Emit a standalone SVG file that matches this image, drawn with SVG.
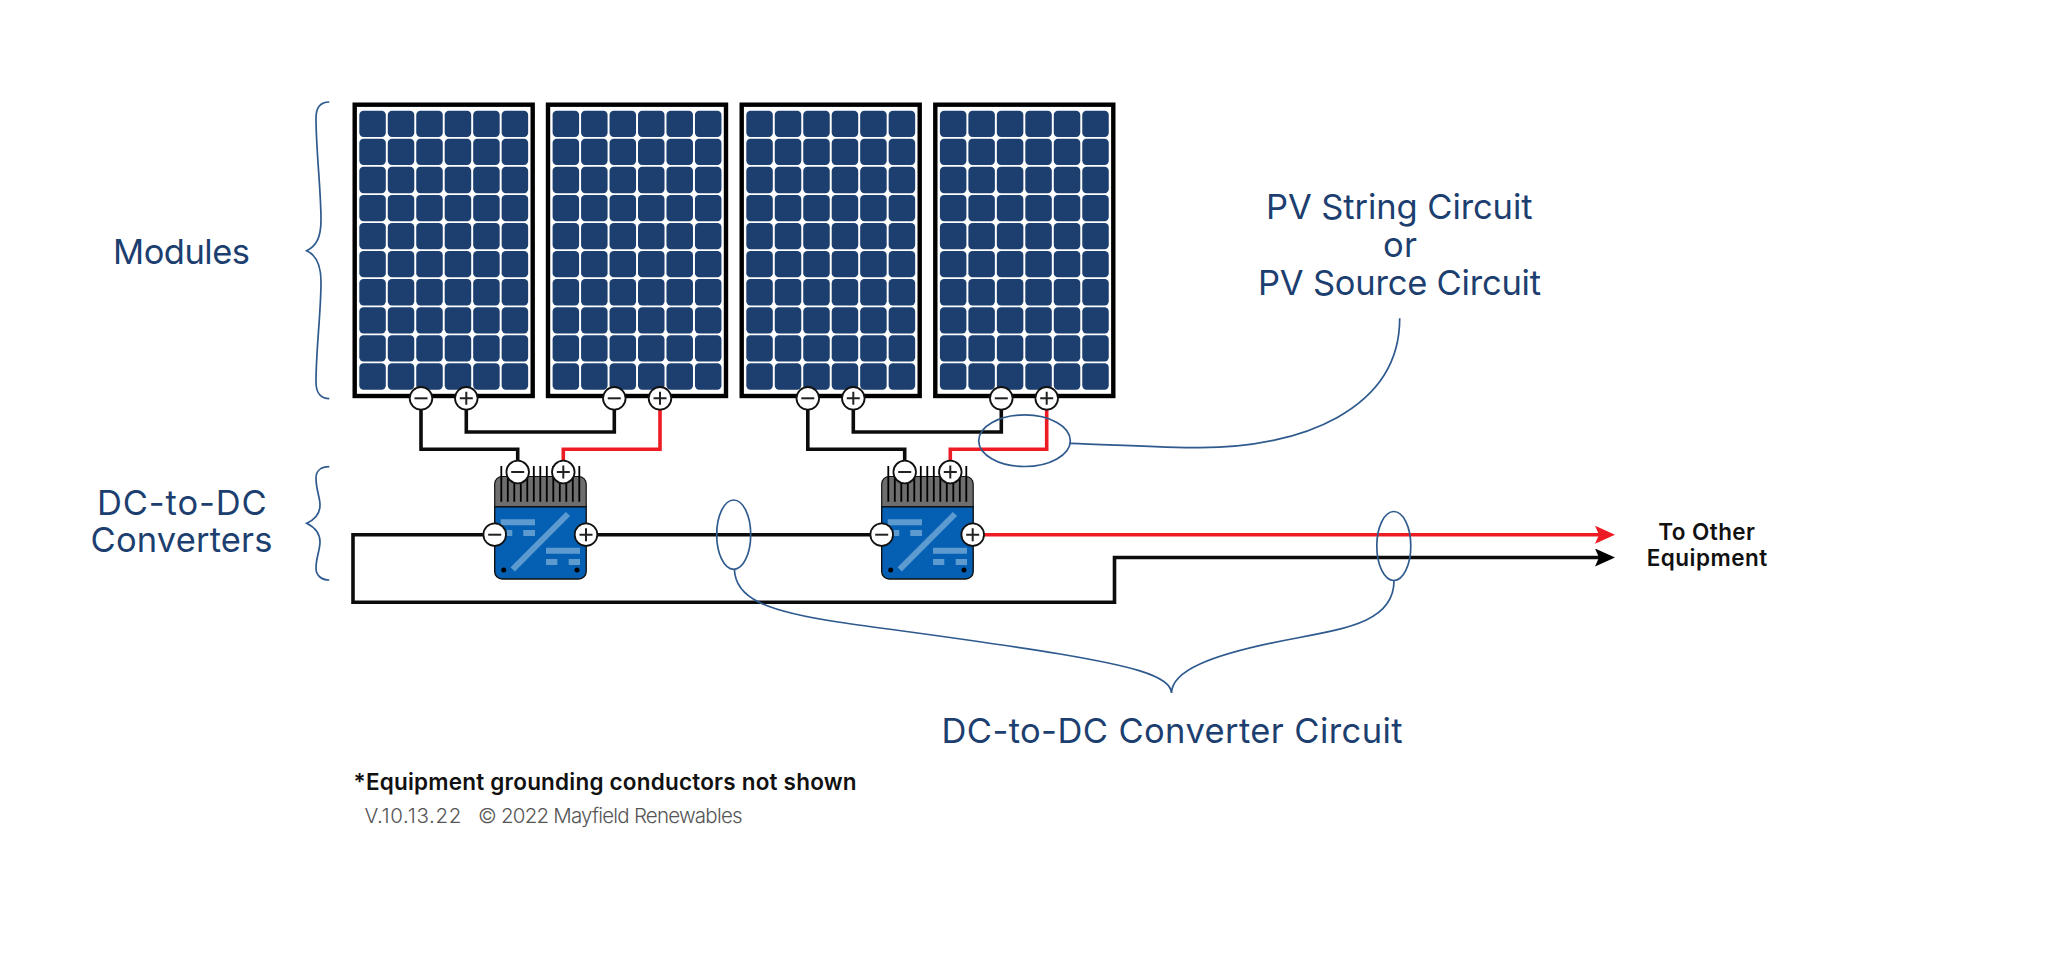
<svg xmlns="http://www.w3.org/2000/svg" xmlns:xlink="http://www.w3.org/1999/xlink" width="2048" height="956" viewBox="0 0 2048 956">
<style>
text{font-family:Inter,"Liberation Sans",sans-serif}
.lab{font-size:34.5px;fill:#1d3f70;font-weight:400}
.note{font-size:22.5px;fill:#111;font-weight:600}
.ver{font-size:20.5px;fill:#555;font-weight:300}
.w{fill:none;stroke:#0c0c0c;stroke-width:3.6}
.r{fill:none;stroke:#ed1c24;stroke-width:3.6}
.call{fill:none;stroke:#2f5a8e;stroke-width:1.7}
.frame{fill:#fff;stroke:#000;stroke-width:4.4}
.cell{fill:#1c3f70}
.tc{fill:#fff;stroke:#111;stroke-width:1.8}
.ts{fill:none;stroke:#222;stroke-width:2}
.fin{stroke:#000;stroke-width:1.8}
.lt{fill:#5c9ad0}
</style>
<defs>
<rect id="cell" class="cell" width="26.5" height="26.3" rx="4.2"/>
<g id="row"><use href="#cell" x="6.6"/><use href="#cell" x="35.07"/><use href="#cell" x="63.54"/><use href="#cell" x="92.01"/><use href="#cell" x="120.48"/><use href="#cell" x="148.95"/></g>
<g id="panel"><rect class="frame" x="2" y="2" width="178" height="291.3"/>
<use href="#row" y="8"/><use href="#row" y="36.07"/><use href="#row" y="64.14"/><use href="#row" y="92.21"/><use href="#row" y="120.28"/><use href="#row" y="148.35"/><use href="#row" y="176.42"/><use href="#row" y="204.49"/><use href="#row" y="232.56"/><use href="#row" y="260.63"/></g>
<g id="tm"><circle class="tc" r="11.3"/><path class="ts" d="M-6.5 0H6.5"/></g>
<g id="tp"><circle class="tc" r="11.3"/><path class="ts" d="M-6.5 0H6.5M0-6.5V6.5"/></g>
<g id="conv">
<path d="M494.7 506.7V484a7.5 7.5 0 0 1 7.5-7.5H578.7a7.5 7.5 0 0 1 7.5 7.5V506.7Z" fill="#6e6e6e" stroke="#111" stroke-width="1.2"/>
<path d="M494.7 506.7H586.2V571.5a7.5 7.5 0 0 1-7.5 7.5H502.2a7.5 7.5 0 0 1-7.5-7.5Z" fill="#0560b4" stroke="#111" stroke-width="1.4"/>
<path class="fin" d="M501.3 466V501.7M507.8 466V501.7M514.3 466V501.7M520.8 466V501.7M527.3 466V501.7M533.8 466V501.7M540.3 466V501.7M546.8 466V501.7M553.3 466V501.7M559.8 466V501.7M566.3 466V501.7M572.8 466V501.7M579.3 466V501.7"/>
<path class="lt" d="M500.7 519.3H535V525.3H500.7ZM506.7 530H512.3V536H506.7ZM523.3 530H535V536H523.3ZM546 547.7H580V553.7H546ZM546 559H557.3V565H546ZM568.7 559H580V565H568.7ZM510.6 567.2L565.9 511.9L570.1 516.1L514.8 571.4Z"/>
<circle cx="503.7" cy="570" r="2.5" fill="#000"/><circle cx="577" cy="570" r="2.5" fill="#000"/>
</g>
<marker id="ah-r" viewBox="0 0 20 18" markerUnits="userSpaceOnUse" markerWidth="20" markerHeight="18" refX="5" refY="9" orient="auto"><path d="M0 0L20 9L0 18L4 9Z" fill="#ed1c24"/></marker>
<marker id="ah-k" viewBox="0 0 20 18" markerUnits="userSpaceOnUse" markerWidth="20" markerHeight="18" refX="5" refY="9" orient="auto"><path d="M0 0L20 9L0 18L4 9Z" fill="#000"/></marker>
</defs>
<rect width="2048" height="956" fill="#fff"/>
<g id="connectors">
<path class="w" d="M421 398V449.3H517.7V472"/>
<path class="w" d="M466.3 398V432H614.3V398"/>
<path class="r" d="M660 398V449.3H563.3V472"/>
<path class="w" d="M807.8 398V449.3H904.7V472"/>
<path class="w" d="M853.3 398V432H1001.3V398"/>
<path class="r" d="M1046.7 398V449.3H950.3V472"/>
<path class="w" d="M494.7 534.7H353V602.3H1114.5V557.5H1600" marker-end="url(#ah-k)"/>
<path class="w" d="M586 534.7H881.7"/>
<path class="r" d="M972.7 534.7H1600" marker-end="url(#ah-r)"/>
</g>
<g id="module-1"><use href="#panel" x="352.7" y="102.7"/><use href="#tm" x="421" y="398.3"/><use href="#tp" x="466.3" y="398.3"/></g>
<g id="module-2"><use href="#panel" x="546" y="102.7"/><use href="#tm" x="614.3" y="398.3"/><use href="#tp" x="660" y="398.3"/></g>
<g id="module-3"><use href="#panel" x="739.7" y="102.7"/><use href="#tm" x="807.8" y="398.3"/><use href="#tp" x="853.3" y="398.3"/></g>
<g id="module-4"><use href="#panel" x="933.3" y="102.7"/><use href="#tm" x="1001.3" y="398.3"/><use href="#tp" x="1046.7" y="398.3"/></g>
<g id="converter-1"><use href="#conv"/><use href="#tm" x="517.7" y="472"/><use href="#tp" x="563.3" y="472"/><use href="#tm" x="494.7" y="534.7"/><use href="#tp" x="586" y="534.7"/></g>
<g id="converter-2"><use href="#conv" x="387"/><use href="#tm" x="904.7" y="472"/><use href="#tp" x="950.3" y="472"/><use href="#tm" x="881.7" y="534.7"/><use href="#tp" x="972.7" y="534.7"/></g>
<g id="callouts">
<path class="call" d="M329.3 102C322 102 316 106 316 118C316 150 321 190 321 220C321 238 316 246 306.7 250.7C316 255 321 264 321 282C321 312 316 350 316 382C316 394 322 398.7 329.3 398.7"/>
<path class="call" d="M329.3 466.7C322 466.7 316 470 316 478C316 490 320 497 320 505C320 515 314 520 306.7 523.3C314 527 320 532 320 542C320 550 316 558 316 568C316 576 322 580 329.3 580"/>
<ellipse class="call" cx="1024.5" cy="440.7" rx="45.8" ry="25.8"/>
<path class="call" d="M1070 443.3C1110 444.5 1160 447.7 1200 447.7C1300 447.7 1399.7 410 1399.7 318.3"/>
<ellipse class="call" cx="733.7" cy="534.7" rx="17" ry="34.7"/>
<ellipse class="call" cx="1393.8" cy="546" rx="17" ry="34.5"/>
<path class="call" d="M734.4 569C735 598 765 611 838 622C900 631 975 640 1060 654C1125 665 1171 675 1171.5 693C1172 672 1205 655 1297 638C1350 628 1394 620 1394 581"/>
</g>
<g id="labels">
<text class="lab" x="113" y="264" textLength="137">Modules</text>
<text class="lab" x="97" y="514.5" textLength="169.7">DC-to-DC</text>
<text class="lab" x="90.5" y="552.2" textLength="182">Converters</text>
<text class="lab" x="1266" y="219" textLength="266.5">PV String Circuit</text>
<text class="lab" x="1383" y="256.5" textLength="34">or</text>
<text class="lab" x="1258" y="294.7" textLength="283">PV Source Circuit</text>
<text class="lab" x="941.5" y="742.5" textLength="461">DC-to-DC Converter Circuit</text>
<text class="note" x="1658.3" y="540" textLength="96.7">To Other</text>
<text class="note" x="1646.7" y="566" textLength="120.6">Equipment</text>
<text class="note" x="353.6" y="790" textLength="503">*Equipment grounding conductors not shown</text>
<text class="ver" x="364.4" y="823" textLength="97">V.10.13.22</text>
<text class="ver" x="478" y="823" textLength="264.6">© 2022 Mayfield Renewables</text>
</g>
</svg>
